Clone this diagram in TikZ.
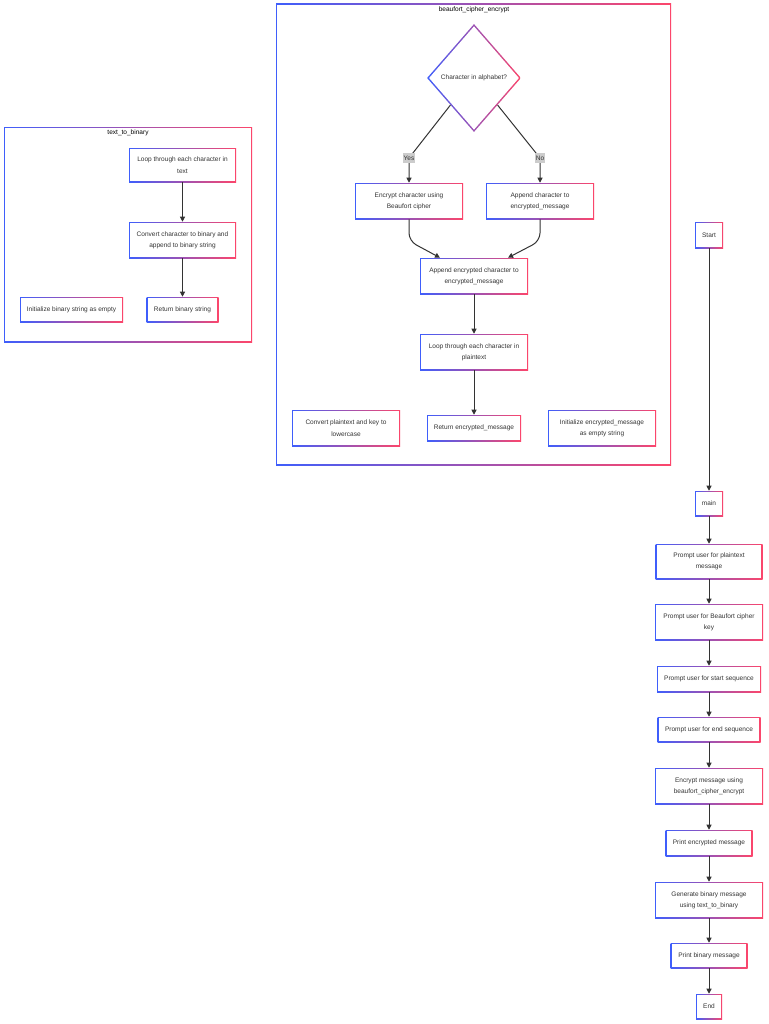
\documentclass[tikz,border=0pt]{standalone}
\usepackage{fontspec}
\setmainfont{Liberation Sans}
\usetikzlibrary{shapes.geometric,arrows.meta,calc}
\definecolor{gl}{HTML}{3F5EFB}
\definecolor{gr}{HTML}{FC466B}
\definecolor{txt}{HTML}{333333}
\definecolor{lblbg}{HTML}{CCCCCC}
\pgfdeclarehorizontalshading{ghoriz}{100bp}{color(0bp)=(gl); color(25bp)=(gl); color(75bp)=(gr); color(100bp)=(gr)}
\begin{document}
\begin{tikzpicture}[x=0.75pt,y=-0.75pt,
  wh/.style 2 args={minimum width=#1*0.75pt, minimum height=#2*0.75pt},
  tfont/.style={font=\fontsize{4.9}{8.5}\selectfont},
  gbox/.style={rectangle, inner sep=0pt, align=center, text=txt, fill=white, tfont,
    path picture={
      \shade[shading=ghoriz, shading angle=0] (path picture bounding box.south west) rectangle (path picture bounding box.north east);
      \fill[white] ([shift={(1.1pt,1.1pt)}]path picture bounding box.south west) rectangle ([shift={(-1.1pt,-1.1pt)}]path picture bounding box.north east);
    }},
  cluster/.style={rectangle, inner sep=0pt, fill=white,
    path picture={
      \shade[shading=ghoriz, shading angle=0] (path picture bounding box.south west) rectangle (path picture bounding box.north east);
      \fill[white] ([shift={(0.8pt,0.8pt)}]path picture bounding box.south west) rectangle ([shift={(-0.8pt,-0.8pt)}]path picture bounding box.north east);
    }},
  gdia/.style={diamond, inner sep=0pt, align=center, text=txt, fill=white, tfont,
    path picture={
      \shade[shading=ghoriz, shading angle=0] (path picture bounding box.south west) rectangle (path picture bounding box.north east);
      \fill[white] ([yshift=-1.7pt]path picture bounding box.north) -- ([xshift=-1.5pt]path picture bounding box.east) -- ([yshift=1.7pt]path picture bounding box.south) -- ([xshift=1.5pt]path picture bounding box.west) -- cycle;
    }},
  ctitle/.style={text=black, tfont, inner sep=0pt},
  lbl/.style={fill=lblbg, inner xsep=0.4pt, inner ysep=1.8pt, text=txt, tfont},
  arr/.style={draw=txt, line width=0.75pt, -{Triangle[length=3.8pt,width=3.8pt]}},
]
\useasboundingbox (0,0) rectangle (768,1024);
\fill[white] (0,0) rectangle (768,1024);

% ---------- text_to_binary ----------
\node[cluster, wh={248}{215}] (ttb) at (128,234.5) {};
\node[ctitle] (ttbt) at (128,133) {text\_to\_binary};
\node[gbox, wh={107}{34}] (L1) at (182.5,165) {Loop through each character in\\text};
\node[gbox, wh={107}{36}] (C1) at (182.5,240) {Convert character to binary and\\append to binary string};
\node[gbox, wh={103}{25}] (I1) at (71.5,309.5) {Initialize binary string as empty};
\node[gbox, wh={72}{25}] (R1) at (182.5,309.5) {Return binary string};
\draw[arr] (L1.south) -- (C1.north);
\draw[arr] (C1.south) -- (R1.north);

% ---------- beaufort_cipher_encrypt ----------
\node[cluster, wh={395}{461}] (bce) at (473.5,234.5) {};
\node[ctitle] (bcet) at (474,10) {beaufort\_cipher\_encrypt};
\node[gdia, wh={94}{108}] (D) at (474,78) {Character in alphabet?};
\node[gbox, wh={108}{36}] (E) at (409,201) {Encrypt character using\\Beaufort cipher};
\node[gbox, wh={108}{36}] (A) at (540,201) {Append character to\\encrypted\_message};
\node[gbox, wh={108}{36}] (AE) at (474,276) {Append encrypted character to\\encrypted\_message};
\node[gbox, wh={108}{36}] (LP) at (474,352) {Loop through each character in\\plaintext};
\node[gbox, wh={108}{36}] (CV) at (346,428) {Convert plaintext and key to\\lowercase};
\node[gbox, wh={94}{26}] (RE) at (474,428) {Return encrypted\_message};
\node[gbox, wh={108}{36}] (IE) at (602,428) {Initialize encrypted\_message\\as empty string};

\coordinate (ybend) at (409,158);
\coordinate (nbend) at (540,158);
\draw[arr] ($(D.west)!0.5!(D.south)$) -- (ybend) -- (E.north);
\draw[arr] ($(D.east)!0.5!(D.south)$) -- (nbend) -- (A.north);
\node[lbl] (yes) at (ybend) {Yes};
\node[lbl] (no) at (nbend) {No};
\coordinate (ecorner) at (409,241);
\coordinate (acorner) at (540,241);
\draw[arr, rounded corners=6pt] (E.south) -- (ecorner) -- ([xshift=-25.5pt]AE.north);
\draw[arr, rounded corners=6pt] (A.south) -- (acorner) -- ([xshift=25.5pt]AE.north);
\draw[arr] (AE.south) -- (LP.north);
\draw[arr] (LP.south) -- (RE.north);

% ---------- main flow ----------
\node[gbox, wh={28}{26}] (st) at (709,235) {Start};
\node[gbox, wh={28}{25}] (mn) at (709,503.5) {main};
\node[gbox, wh={107}{35}] (p1) at (709,561.5) {Prompt user for plaintext\\message};
\node[gbox, wh={108}{36}] (p2) at (709,622) {Prompt user for Beaufort cipher\\key};
\node[gbox, wh={104}{26}] (p3) at (709,679) {Prompt user for start sequence};
\node[gbox, wh={103}{25}] (p4) at (709,729.5) {Prompt user for end sequence};
\node[gbox, wh={108}{36}] (em) at (709,786) {Encrypt message using\\beaufort\_cipher\_encrypt};
\node[gbox, wh={87}{26}] (pe) at (709,843) {Print encrypted message};
\node[gbox, wh={108}{36}] (gb) at (709,900) {Generate binary message\\using text\_to\_binary};
\node[gbox, wh={77}{25}] (pb) at (709,955.5) {Print binary message};
\node[gbox, wh={26}{25}] (en) at (709,1006.5) {End};

\draw[arr] (st.south) -- (mn.north);
\draw[arr] (mn.south) -- (p1.north);
\draw[arr] (p1.south) -- (p2.north);
\draw[arr] (p2.south) -- (p3.north);
\draw[arr] (p3.south) -- (p4.north);
\draw[arr] (p4.south) -- (em.north);
\draw[arr] (em.south) -- (pe.north);
\draw[arr] (pe.south) -- (gb.north);
\draw[arr] (gb.south) -- (pb.north);
\draw[arr] (pb.south) -- (en.north);
\end{tikzpicture}
\end{document}
